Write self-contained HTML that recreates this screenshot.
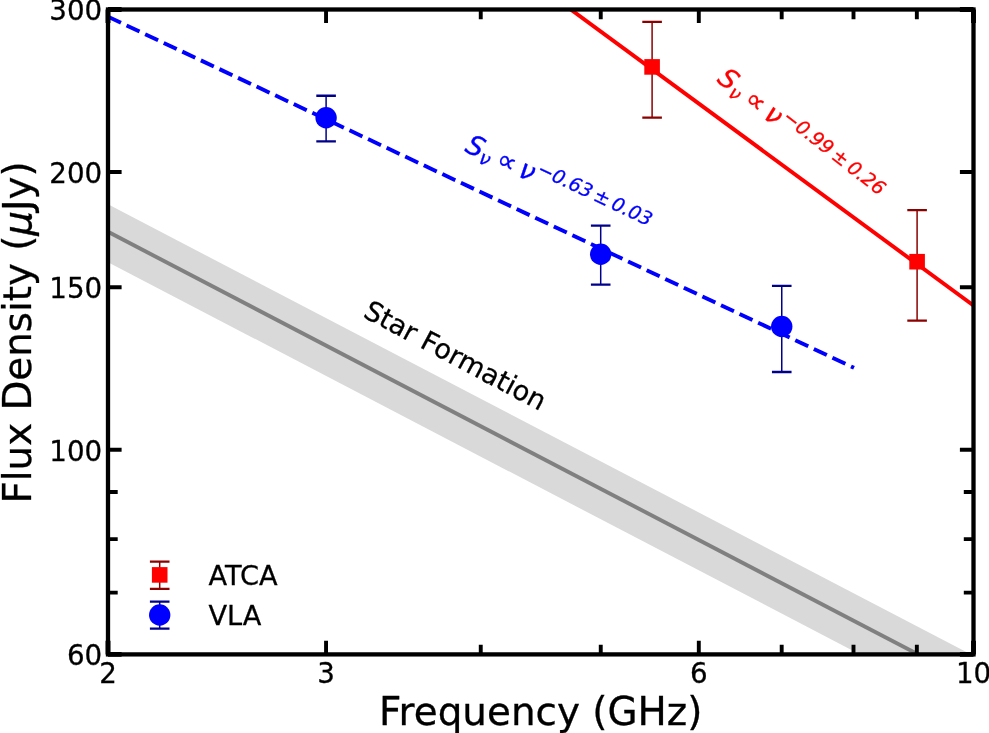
<!DOCTYPE html>
<html lang="en"><head><meta charset="utf-8"><title>Radio spectrum: Flux Density vs Frequency</title>
<style>html,body{margin:0;padding:0;background:#fff}body{width:989px;height:733px;overflow:hidden}svg{display:block}text{font-family:"DejaVu Sans","Liberation Sans",sans-serif;fill:#000;stroke:#000;stroke-width:.3px}.it{font-style:italic}</style></head><body>
<svg width="989" height="733" viewBox="0 0 989 733">
<rect width="989" height="733" fill="#fff"/>
<defs><clipPath id="ax"><rect x="108.00" y="9.50" width="865.50" height="644.90"/></clipPath></defs>
<g clip-path="url(#ax)">
<polygon points="108.00,204.30 993.50,666.18 993.50,724.08 108.00,262.20" fill="#d9d9d9"/>
<line x1="108.00" y1="231.80" x2="993.50" y2="693.68" stroke="#808080" stroke-width="3.90"/>
<line x1="108.00" y1="16.66" x2="854.00" y2="367.80" stroke="#0000ff" stroke-width="3.90" stroke-dasharray="14.33 6.2"/>
<line x1="540.00" y1="-13.13" x2="1000.00" y2="325.01" stroke="#ff0000" stroke-width="3.90"/>
<path d="M326.10 95.75V141.30" stroke="#00008b" stroke-width="1.50" fill="none"/>
<path d="M316.30 95.75h19.60M316.30 141.30h19.60" stroke="#00008b" stroke-width="2.30" fill="none"/>
<path d="M600.70 225.70V284.60" stroke="#00008b" stroke-width="1.50" fill="none"/>
<path d="M590.90 225.70h19.60M590.90 284.60h19.60" stroke="#00008b" stroke-width="2.30" fill="none"/>
<path d="M781.75 285.90V372.00" stroke="#00008b" stroke-width="1.50" fill="none"/>
<path d="M771.95 285.90h19.60M771.95 372.00h19.60" stroke="#00008b" stroke-width="2.30" fill="none"/>
<circle cx="326.10" cy="117.70" r="10.7" fill="#0000ff"/>
<circle cx="600.70" cy="254.20" r="10.7" fill="#0000ff"/>
<circle cx="781.75" cy="326.50" r="10.7" fill="#0000ff"/>
<path d="M652.10 21.80V117.60" stroke="#8b0000" stroke-width="1.50" fill="none"/>
<path d="M642.30 21.80h19.60M642.30 117.60h19.60" stroke="#8b0000" stroke-width="2.30" fill="none"/>
<path d="M917.10 210.10V320.60" stroke="#8b0000" stroke-width="1.50" fill="none"/>
<path d="M907.30 210.10h19.60M907.30 320.60h19.60" stroke="#8b0000" stroke-width="2.30" fill="none"/>
<rect x="644.30" y="59.10" width="15.60" height="15.60" fill="#ff0000"/>
<rect x="909.30" y="253.90" width="15.60" height="15.60" fill="#ff0000"/>
</g>
<path d="M326.05 9.50v13.60M326.05 654.40v-13.60M698.80 9.50v13.60M698.80 654.40v-13.60M480.75 9.50v9.70M480.75 654.40v-9.70M600.75 9.50v9.70M600.75 654.40v-9.70M781.69 9.50v9.70M781.69 654.40v-9.70M853.50 9.50v9.70M853.50 654.40v-9.70M916.84 9.50v9.70M916.84 654.40v-9.70M108.00 449.71h13.60M973.50 449.71h-13.60M108.00 287.24h13.60M973.50 287.24h-13.60M108.00 171.97h13.60M973.50 171.97h-13.60M108.00 592.63h9.70M973.50 592.63h-9.70M108.00 539.13h9.70M973.50 539.13h-9.70M108.00 491.93h9.70M973.50 491.93h-9.70" stroke="#000" stroke-width="3.90" fill="none"/>
<rect x="108.00" y="9.50" width="865.50" height="644.90" fill="none" stroke="#000" stroke-width="4.3"/>
<path d="M108.00 9.50h13.60M108.00 9.50v13.60M108.00 654.40h13.60M108.00 654.40v-13.60M973.50 9.50h-13.60M973.50 9.50v13.60M973.50 654.40h-13.60M973.50 654.40v-13.60" stroke="#000" stroke-width="4.9" fill="none"/>
<text x="102.20" y="665.20" font-size="27.70" text-anchor="end">60</text>
<text x="102.20" y="460.51" font-size="27.70" text-anchor="end">100</text>
<text x="102.20" y="298.04" font-size="27.70" text-anchor="end">150</text>
<text x="102.20" y="182.77" font-size="27.70" text-anchor="end">200</text>
<text x="102.20" y="20.30" font-size="27.70" text-anchor="end">300</text>
<text x="108.00" y="682.70" font-size="27.70" text-anchor="middle">2</text>
<text x="326.05" y="682.70" font-size="27.70" text-anchor="middle">3</text>
<text x="698.80" y="682.70" font-size="27.70" text-anchor="middle">6</text>
<text x="973.50" y="682.70" font-size="27.70" text-anchor="middle">10</text>
<text x="540.75" y="724.70" font-size="38.90" text-anchor="middle">Frequency (GHz)</text>
<text transform="translate(31.30 332.45) rotate(-90)" font-size="38.90" text-anchor="middle" letter-spacing="-0.055">Flux Density (<tspan class="it">μ</tspan>Jy)</text>
<text transform="translate(362.00 316.50) rotate(28.00)" font-size="27.20">Star Formation</text>
<g transform="translate(463.70 150.90) rotate(25.20)" fill="#0000ff">
<text x="0.00" y="0.00" font-size="27.20" style="fill:#0000ff;stroke:#0000ff" class="it">S</text>
<text x="17.27" y="4.46" font-size="19.04" style="fill:#0000ff;stroke:#0000ff" class="it">ν</text>
<text x="33.94" y="0.00" font-size="27.20" style="fill:#0000ff;stroke:#0000ff">∝</text>
<text x="58.67" y="0.00" font-size="27.20" style="fill:#0000ff;stroke:#0000ff" class="it">ν</text>
<text x="75.08 91.04 103.15 109.20 121.32 137.14 156.80 168.92 174.97 187.08" y="-10.41" font-size="19.04" style="fill:#0000ff;stroke:#0000ff" class="it">−0.63±0.03</text>
</g>
<g transform="translate(716.10 81.10) rotate(38.20)" fill="#ff0000">
<text x="0.00" y="0.00" font-size="27.20" style="fill:#ff0000;stroke:#ff0000" class="it">S</text>
<text x="17.27" y="4.46" font-size="19.04" style="fill:#ff0000;stroke:#ff0000" class="it">ν</text>
<text x="33.94" y="0.00" font-size="27.20" style="fill:#ff0000;stroke:#ff0000">∝</text>
<text x="58.67" y="0.00" font-size="27.20" style="fill:#ff0000;stroke:#ff0000" class="it">ν</text>
<text x="75.08 91.04 103.15 109.20 121.32 137.14 156.80 168.92 174.97 187.08" y="-10.41" font-size="19.04" style="fill:#ff0000;stroke:#ff0000" class="it">−0.99±0.26</text>
</g>
<g>
<path d="M159.70 561.70V588.80" stroke="#8b0000" stroke-width="1.50" fill="none"/>
<path d="M149.90 561.70h19.60M149.90 588.80h19.60" stroke="#8b0000" stroke-width="2.30" fill="none"/>
<rect x="151.90" y="567.10" width="15.60" height="15.60" fill="#ff0000"/>
<path d="M159.70 601.70V628.70" stroke="#00008b" stroke-width="1.50" fill="none"/>
<path d="M149.90 601.70h19.60M149.90 628.70h19.60" stroke="#00008b" stroke-width="2.30" fill="none"/>
<circle cx="159.7" cy="615.0" r="10.7" fill="#0000ff"/>
<text x="208.5" y="584.5" font-size="27.20">ATCA</text>
<text x="208.5" y="624.9" font-size="27.20">VLA</text>
</g>
</svg></body></html>
